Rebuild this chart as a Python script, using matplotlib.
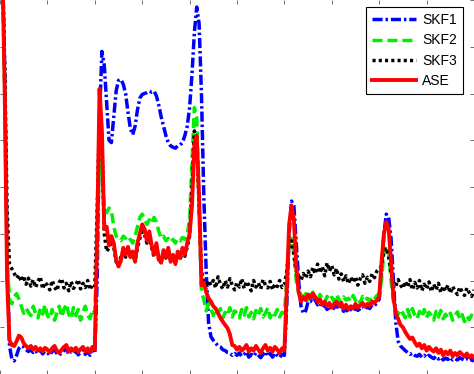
import numpy as np
import matplotlib
matplotlib.use("Agg")
import matplotlib.pyplot as plt

plt.rcParams['font.family'] = ['Liberation Sans', 'DejaVu Sans']

# sample axis (time, 0..10)
n_samples = 201
t = np.linspace(0, 10, n_samples)

ase = [9.0, 8.8, 6.0, 2.0, 0.72, 0.62, 0.60, 0.70, 0.82, 0.78,
       0.66, 0.60, 0.55, 0.60, 0.52, 0.58, 0.50, 0.55, 0.48, 0.56,
       0.52, 0.46, 0.55, 0.60, 0.50, 0.45, 0.52, 0.58, 0.62, 0.48,
       0.55, 0.50, 0.56, 0.47, 0.53, 0.58, 0.48, 0.55, 0.46, 0.58,
       0.52, 3.0, 6.1, 5.2, 3.1, 3.15, 2.75, 2.95, 2.80, 2.45,
       2.30, 2.42, 2.70, 2.55, 2.72, 2.50, 2.62, 2.40, 2.80, 3.00,
       3.20, 3.10, 2.85, 3.05, 2.75, 2.55, 2.80, 2.45, 2.38, 2.65,
       2.50, 2.70, 2.40, 2.55, 2.35, 2.62, 2.48, 2.70, 2.55, 2.80,
       3.00, 3.6, 4.9, 5.1, 3.8, 1.9, 1.95, 1.75, 1.62, 1.55,
       1.45, 1.40, 1.30, 1.20, 1.12, 1.05, 0.98, 0.85, 0.62, 0.60,
       0.52, 0.58, 0.50, 0.55, 0.62, 0.48, 0.55, 0.50, 0.60, 0.52,
       0.45, 0.55, 0.62, 0.50, 0.56, 0.48, 0.58, 0.52, 0.45, 0.55,
       0.50, 1.8, 3.2, 3.6, 3.3, 2.3, 1.75, 1.55, 1.65, 1.58,
       1.70, 1.62, 1.72, 1.65, 1.55, 1.60, 1.48, 1.55, 1.45, 1.52,
       1.42, 1.50, 1.55, 1.45, 1.52, 1.40, 1.48, 1.38, 1.45, 1.40,
       1.50, 1.42, 1.47, 1.52, 1.44, 1.50, 1.46, 1.55, 1.52, 1.58,
       1.65, 2.4, 3.0, 3.25, 3.1, 2.4, 1.65, 1.30, 1.18, 1.05,
       1.00, 0.90, 0.82, 0.75, 0.78, 0.68, 0.60, 0.65, 0.55, 0.62,
       0.50, 0.58, 0.52, 0.48, 0.55, 0.45, 0.52, 0.40, 0.48, 0.42,
       0.50, 0.38, 0.45, 0.40, 0.47, 0.42, 0.38, 0.44, 0.36, 0.40, 0.35]

skf1 = [9.0, 8.8, 6.5, 2.5, 0.60, 0.32, 0.28, 0.40, 0.55, 0.60,
        0.58, 0.52, 0.48, 0.52, 0.46, 0.50, 0.44, 0.50, 0.43, 0.50,
        0.46, 0.40, 0.48, 0.52, 0.44, 0.40, 0.46, 0.50, 0.55, 0.42,
        0.48, 0.44, 0.50, 0.41, 0.46, 0.52, 0.42, 0.48, 0.40, 0.50,
        0.46, 2.0, 5.5, 6.9, 6.6, 5.8, 5.0, 4.95, 5.5, 6.05,
        6.28, 6.30, 6.2, 6.0, 5.6, 5.25, 5.12, 5.3, 5.65, 5.9,
        5.98, 6.0, 6.02, 6.05, 6.03, 6.05, 5.95, 5.75, 5.5, 5.3,
        5.1, 4.95, 4.88, 4.85, 4.83, 4.88, 4.90, 4.95, 5.1, 5.3,
        5.7, 6.4, 7.3, 7.85, 7.5, 6.0, 3.8, 2.2, 1.1, 0.80,
        0.72, 0.66, 0.60, 0.58, 0.52, 0.50, 0.46, 0.45, 0.40, 0.44,
        0.40, 0.45, 0.38, 0.42, 0.48, 0.36, 0.42, 0.38, 0.45, 0.40,
        0.35, 0.42, 0.48, 0.38, 0.44, 0.36, 0.45, 0.40, 0.35, 0.42,
        0.40, 1.5, 3.0, 3.7, 3.6, 2.8, 2.0, 1.45, 1.30, 1.35,
        1.55, 1.55, 1.65, 1.58, 1.48, 1.52, 1.42, 1.48, 1.38, 1.45,
        1.36, 1.42, 1.48, 1.38, 1.45, 1.34, 1.40, 1.32, 1.38, 1.34,
        1.42, 1.36, 1.40, 1.45, 1.38, 1.44, 1.40, 1.48, 1.46, 1.52,
        1.60, 2.2, 3.0, 3.42, 3.35, 2.9, 2.0, 1.1, 0.70, 0.60,
        0.55, 0.50, 0.46, 0.42, 0.45, 0.40, 0.38, 0.42, 0.36, 0.40,
        0.35, 0.40, 0.36, 0.33, 0.38, 0.32, 0.36, 0.30, 0.34, 0.31,
        0.36, 0.30, 0.33, 0.30, 0.35, 0.32, 0.29, 0.33, 0.28, 0.31, 0.27]

skf2 = [9.0, 8.8, 6.0, 2.5, 1.60, 1.50, 1.65, 1.72, 1.60, 1.45,
        1.30, 1.40, 1.32, 1.25, 1.45, 1.30, 1.20, 1.40, 1.28, 1.48,
        1.25, 1.18, 1.38, 1.15, 1.30, 1.45, 1.22, 1.38, 1.50, 1.28,
        1.18, 1.42, 1.25, 1.38, 1.15, 1.32, 1.45, 1.25, 1.18, 1.38,
        1.30, 2.8, 4.6, 4.3, 3.5, 3.45, 3.55, 3.50, 3.15, 2.95,
        2.88, 2.85, 2.95, 2.90, 2.82, 2.88, 2.80, 2.95, 3.15, 3.35,
        3.42, 3.30, 3.20, 3.30, 3.22, 3.35, 3.25, 3.05, 2.90, 2.95,
        2.85, 2.90, 2.82, 2.88, 2.80, 2.90, 2.85, 2.92, 2.88, 3.00,
        3.30, 4.5, 5.7, 5.5, 3.5, 1.75, 1.60, 1.35, 1.50, 1.40,
        1.25, 1.38, 1.30, 1.40, 1.20, 1.32, 1.25, 1.42, 1.22, 1.35,
        1.30, 1.20, 1.38, 1.26, 1.42, 1.22, 1.32, 1.18, 1.36, 1.26,
        1.40, 1.22, 1.30, 1.42, 1.20, 1.33, 1.26, 1.38, 1.22, 1.32,
        1.30, 2.0, 2.8, 2.9, 2.6, 2.0, 1.75, 1.70, 1.62, 1.72,
        1.58, 1.68, 1.75, 1.60, 1.55, 1.70, 1.62, 1.52, 1.66, 1.58,
        1.64, 1.55, 1.70, 1.60, 1.52, 1.65, 1.58, 1.62, 1.55, 1.68,
        1.57, 1.63, 1.52, 1.66, 1.58, 1.62, 1.55, 1.65, 1.60, 1.68,
        1.72, 2.0, 2.6, 2.75, 2.6, 2.0, 1.55, 1.35, 1.28, 1.38,
        1.30, 1.20, 1.38, 1.22, 1.40, 1.26, 1.18, 1.34, 1.22, 1.38,
        1.20, 1.32, 1.25, 1.15, 1.34, 1.22, 1.36, 1.18, 1.28, 1.20,
        1.30, 1.15, 1.25, 1.33, 1.18, 1.27, 1.12, 1.24, 1.16, 1.26, 1.18]

skf3 = [9.0, 8.8, 6.5, 3.5, 2.35, 2.25, 2.15, 2.05, 2.12, 1.98,
        2.10, 1.92, 2.05, 1.88, 2.02, 1.85, 1.98, 2.08, 1.82, 1.96,
        1.90, 1.80, 2.00, 1.86, 1.78, 1.96, 2.04, 1.84, 1.94, 1.78,
        1.98, 1.83, 1.90, 2.02, 1.82, 1.94, 1.85, 2.00, 1.80, 1.92,
        1.88, 3.5, 5.5, 5.0, 3.0, 2.62, 2.70, 2.85, 2.72, 2.40,
        2.32, 2.50, 2.62, 2.50, 2.65, 2.48, 2.55, 2.42, 2.70, 2.90,
        3.05, 2.98, 2.80, 2.92, 2.70, 2.50, 2.72, 2.45, 2.40, 2.58,
        2.48, 2.62, 2.42, 2.52, 2.38, 2.55, 2.45, 2.62, 2.52, 2.72,
        2.95, 4.0, 5.2, 5.0, 3.6, 2.2, 1.95, 1.85, 2.00, 1.90,
        2.00, 1.84, 2.08, 1.92, 1.82, 2.00, 1.86, 2.04, 1.90, 1.80,
        1.96, 1.86, 2.04, 1.83, 1.98, 1.90, 1.78, 2.00, 1.86, 1.95,
        1.82, 2.02, 1.90, 1.84, 1.98, 1.80, 1.93, 1.87, 2.00, 1.85,
        1.90, 2.2, 2.75, 2.85, 2.55, 2.2, 2.10, 2.00, 2.15, 2.05,
        2.20, 2.08, 2.28, 2.14, 2.35, 2.16, 2.30, 2.10, 2.38, 2.20,
        2.32, 2.12, 2.26, 2.03, 2.14, 1.98, 2.10, 1.93, 2.07, 1.96,
        2.08, 1.90, 2.04, 2.12, 1.94, 2.07, 1.98, 2.14, 2.06, 2.20,
        2.25, 2.3, 2.65, 2.7, 2.5, 2.15, 1.95, 1.88, 2.02, 1.90,
        1.83, 1.98, 1.86, 2.02, 1.80, 1.96, 1.84, 2.00, 1.78, 1.92,
        1.82, 1.97, 1.76, 1.92, 1.80, 1.94, 1.74, 1.88, 1.78, 1.90,
        1.73, 1.87, 1.78, 1.70, 1.86, 1.76, 1.68, 1.84, 1.74, 1.66, 1.80]

labels = ['SKF1', 'SKF2', 'SKF3', 'ASE']

fig = plt.figure(figsize=(4.74, 3.74), dpi=100)
ax = fig.add_axes([0, 0, 1, 1])

lw = 2.5
ax.plot(t, skf1, color='#0000ff', lw=lw, dashes=(2.9, 0.85, 0.7, 0.85), label=labels[0])
ax.plot(t, skf2, color='#00ee00', lw=lw, dashes=(2.9, 1.4), label=labels[1])
ax.plot(t, skf3, color='black', lw=lw, dashes=(0.9, 0.9), label=labels[2])
ax.plot(t, ase, color='#ff0000', lw=2.8, label=labels[3])

ax.set_xlim(0, 10)
ax.set_ylim(0, 8)
ax.set_xticks(np.arange(0, 11, 1))
ax.set_yticks(np.arange(0, 9, 1))
ax.tick_params(direction='in', top=True, right=True, length=3, width=0.6,
               color='#555555', labelbottom=False, labelleft=False)
for s in ax.spines.values():
    s.set_visible(False)

leg = ax.legend(loc='upper right', bbox_to_anchor=(463 / 474, 1 - 7 / 374),
                borderaxespad=0, fontsize=10, handlelength=3.2,
                handletextpad=0.4, labelspacing=0.45, fancybox=False,
                framealpha=1, edgecolor='black', borderpad=0.45)
leg.get_frame().set_linewidth(0.8)

fig.savefig('out.png', dpi=100)
